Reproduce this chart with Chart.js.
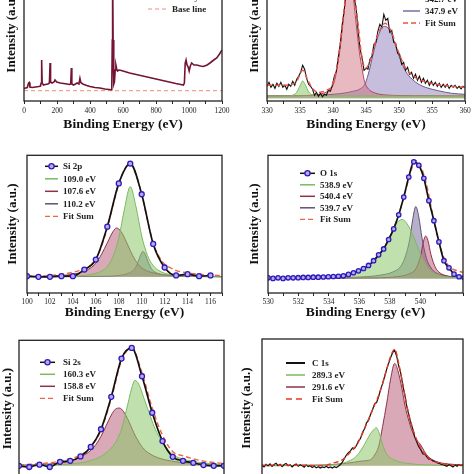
<!DOCTYPE html>
<html>
<head>
<meta charset="utf-8">
<script src="https://cdn.jsdelivr.net/npm/chart.js@4.4.1/dist/chart.umd.min.js"></script>
<style>
html, body { margin: 0; padding: 0; background: #fff; width: 474px; height: 474px; overflow: hidden; }
body { position: relative; }
canvas { position: absolute; }
</style>
</head>
<body>
<canvas id="c1" width="237" height="174" style="left:0;top:-41px"></canvas>
<canvas id="c2" width="237" height="174" style="left:237px;top:-41px"></canvas>
<canvas id="c3" width="237" height="171" style="left:0;top:150px"></canvas>
<canvas id="c4" width="237" height="171" style="left:237px;top:150px"></canvas>
<canvas id="c5" width="237" height="170" style="left:0;top:335px"></canvas>
<canvas id="c6" width="237" height="170" style="left:237px;top:335px"></canvas>
<script>
// ---- survey ----
const surveyPts = [[0,11.5],[10,12],[20,12.5],[28,17],[32,17.5],[36,13],[50,12.5],[70,13],[90,13.5],[100,14],[104,17],[107,40],[110,17],[118,15],[130,15.5],[145,16],[154,17],[158,37],[161,18],[170,17],[182,18],[188,20],[198,18],[220,17],[240,16.5],[260,16],[276,15.5],[283,16],[287,32],[290,16],[300,15],[312,16],[322,17],[333,16],[339,21.5],[344,17.5],[356,16],[380,14.5],[400,13.5],[430,12.5],[460,12],[490,11],[515,10.5],[528,10.2],[532,12],[535,60],[537,136],[540,60],[544,16],[548,18],[553,30],[557,35],[562,31],[567,29],[575,30],[590,29.5],[610,28.5],[640,27],[680,25.5],[720,24],[760,22.5],[800,21],[840,19.5],[880,18],[920,16.5],[950,15.5],[966,15],[972,17],[977,37],[982,40],[988,35],[995,33],[1001,29],[1008,34],[1016,37],[1030,35],[1046,35],[1070,34],[1087,33.5],[1110,35],[1127,37],[1150,40],[1168,42],[1185,46],[1200,50]];
const baseLinePts = [[0,9.3],[1200,9.3]];

// ---- 330-360 eV region ----
const reg2Data = [[330,12],[330.3,16],[330.6,11],[330.9,14],[331.2,10],[331.5,15],[331.8,12],[332.1,16],[332.4,11],[332.7,13],[333,9],[333.3,14],[333.6,12],[333.9,17],[334.2,13],[334.5,19],[334.8,22],[335.1,26],[335.4,33],[335.7,29],[336,20],[336.3,14],[336.6,12],[336.9,9],[337.2,3],[337.5,6],[337.8,2],[338.1,5],[338.4,1.5],[338.7,4],[339,3],[339.3,8],[339.6,7],[339.9,13],[340.2,22],[340.5,27],[340.8,41],[341.1,54],[341.4,74],[341.7,88],[342,108],[342.3,116],[342.6,126],[342.9,118],[343.2,101],[343.5,90],[343.8,68],[344.1,50],[344.4,40],[344.7,28],[345,30],[345.3,29],[345.6,39],[345.9,42],[346.2,54],[346.5,56],[346.8,67],[347.1,74],[347.4,71],[347.7,84],[348,78],[348.3,80],[348.6,66],[348.9,68],[349.2,56],[349.5,55],[349.8,45],[350.1,44],[350.4,34],[350.7,36],[351,28],[351.3,31],[351.6,24],[351.9,26],[352.2,20],[352.5,24],[352.8,18],[353.1,22],[353.4,16],[353.7,20],[354,15],[354.3,18],[354.6,13],[354.9,17],[355.2,13],[355.5,16],[355.8,12],[356.1,15],[356.4,11],[356.7,14],[357,11],[357.3,14],[357.6,10],[357.9,13],[358.2,11],[358.5,13],[358.8,10],[359.1,12],[359.4,9.5],[359.7,12],[360,10.5]];
const reg2Fit = [[330,13],[332,13],[333.5,13.5],[334.5,17],[335.4,28],[336.2,18],[337,9],[338,6],[339,8],[339.8,12],[340.5,28],[341,50],[341.5,78],[342,106],[342.6,124],[343.2,106],[343.7,80],[344.3,45],[344.9,30],[345.5,35],[346,46],[346.5,58],[347,67],[347.5,73],[347.9,75],[348.5,71],[349,64],[349.5,54],[350,45],[350.5,37],[351,30],[352,23],[353,19],[354,16.5],[356,13.5],[358,12],[360,11]];
const reg2PeakA = [[330,2.3],[333,2.4],[334,3.4],[334.5,6],[335,12.5],[335.4,17.3],[335.8,13.5],[336.3,6.5],[336.8,3.6],[338,2.5],[360,2.3]];
const reg2PeakB = [[330,2.3],[335,2.6],[337,3.2],[338.5,5],[339.5,8.5],[340,13],[340.3,19],[340.6,30],[341,46],[341.5,75],[342,105],[342.5,120],[343,105],[343.5,75],[344,46],[344.4,30],[344.7,19],[345,13],[345.5,8.5],[346.5,5],[348,3.3],[350,2.8],[355,2.5],[360,2.3]];
const reg2PeakC = [[330,2.4],[335,2.6],[338,3],[340,4],[342,5.5],[343,7],[344,9],[344.9,15],[345.5,28],[346,42],[346.5,55],[347,65],[347.5,71],[347.9,72],[348.5,69],[349,62],[349.5,52],[350,42],[350.5,34],[351,27],[352,19],[353,14],[354,11],[356,7.5],[358,5],[360,4]];

// ---- Si 2p ----
const si2pData = [[100,0.006],[101,0],[102,0],[103,0.006],[104,0.006],[105,0.064],[106,0.152],[107,0.443],[108,0.825],[109,1.0],[110,0.729],[111,0.29],[112,0.082],[113,0.012],[114,0.023],[115,0.006],[116,0.012]];
const si2pFit = [[100,0.006],[101,0.006],[102,0.012],[103,0.022],[104,0.04],[105,0.07],[105.5,0.1],[106,0.16],[106.5,0.27],[107,0.43],[107.5,0.63],[108,0.82],[108.5,0.95],[109,1.0],[109.5,0.9],[110,0.73],[110.5,0.5],[111,0.3],[111.5,0.18],[112,0.11],[112.5,0.08],[113,0.055],[114,0.035],[115,0.022],[116,0.015],[117,0.012]];
const si2pPeakA = [[100,0],[104,0.005],[105,0.012],[106,0.03],[106.5,0.05],[107,0.09],[107.5,0.18],[108,0.34],[108.5,0.6],[109,0.796],[109.5,0.62],[110,0.36],[110.5,0.19],[111,0.1],[111.5,0.055],[112,0.032],[113,0.015],[114,0.008],[117,0]];
const si2pPeakB = [[100,0.002],[102,0.006],[103,0.012],[104,0.022],[105,0.05],[105.5,0.075],[106,0.12],[106.5,0.2],[107,0.3],[107.5,0.4],[107.8,0.431],[108.2,0.4],[108.7,0.3],[109.2,0.19],[109.7,0.11],[110.2,0.065],[111,0.035],[112,0.018],[113,0.01],[115,0.004],[117,0.002]];
const si2pPeakC = [[100,0],[107,0.005],[108,0.012],[108.8,0.03],[109.3,0.06],[109.6,0.11],[109.9,0.19],[110.1,0.224],[110.3,0.2],[110.6,0.12],[110.9,0.065],[111.3,0.035],[112,0.015],[113,0.006],[117,0]];

// ---- O 1s ----
const o1sData = [[530,0.005],[530.33,0],[530.66,0.005],[530.99,0],[531.32,0.005],[531.65,0.005],[531.98,0.006],[532.31,0.008],[532.64,0.008],[532.97,0.01],[533.3,0.01],[533.63,0.012],[533.96,0.014],[534.29,0.016],[534.62,0.018],[534.95,0.022],[535.28,0.034],[535.61,0.048],[535.94,0.064],[536.27,0.084],[536.6,0.11],[536.93,0.15],[537.26,0.2],[537.59,0.25],[537.92,0.33],[538.25,0.42],[538.58,0.54],[538.91,0.69],[539.24,0.86],[539.57,0.99],[539.9,0.96],[540.23,0.85],[540.56,0.66],[540.89,0.49],[541.22,0.31],[541.55,0.15],[541.88,0.09],[542.21,0.036],[542.54,0.014],[542.87,0.005]];
const o1sFit = [[530,0.005],[532,0.008],[534,0.015],[535,0.025],[535.5,0.04],[536,0.065],[536.5,0.1],[537,0.16],[537.5,0.235],[538,0.35],[538.5,0.51],[539,0.73],[539.4,0.92],[539.7,1.0],[540,0.96],[540.4,0.8],[540.8,0.55],[541.2,0.32],[541.6,0.16],[542,0.09],[542.5,0.062],[543,0.045]];
const o1sPeakA = [[530,0.002],[532,0.005],[533,0.008],[534,0.014],[534.5,0.02],[535,0.03],[535.5,0.045],[536,0.07],[536.5,0.1],[537,0.15],[537.5,0.23],[538,0.36],[538.4,0.46],[538.8,0.5],[539.2,0.45],[539.6,0.34],[540,0.21],[540.4,0.11],[540.8,0.055],[541.3,0.025],[542,0.01],[543,0.004]];
const o1sPeakB = [[530,0],[537,0.005],[538.5,0.015],[539.3,0.04],[539.7,0.08],[540,0.18],[540.2,0.31],[540.35,0.36],[540.5,0.32],[540.7,0.2],[541,0.09],[541.3,0.045],[541.8,0.02],[542.5,0.008],[543,0.005]];
const o1sPeakC = [[530,0.002],[535,0.008],[536.5,0.015],[537.5,0.03],[538.2,0.055],[538.7,0.1],[539,0.18],[539.3,0.33],[539.5,0.5],[539.7,0.61],[539.9,0.52],[540.1,0.35],[540.4,0.17],[540.7,0.09],[541,0.05],[541.5,0.025],[542.2,0.012],[543,0.006]];

// ---- Si 2s ----
const si2sData = [[149,0],[150,-0.01],[151,0.01],[152,-0.01],[153,0.034],[154,0.042],[155,0.08],[156,0.16],[157,0.31],[158,0.585],[159,0.91],[160,1.0],[161,0.76],[162,0.45],[163,0.21],[164,0.076],[165,0.042],[166,0.025],[167,0.006],[168,0],[169,0]];
const si2sFit = [[149,0.008],[150,0.012],[151,0.018],[152,0.026],[153,0.04],[154,0.06],[155,0.09],[156,0.16],[157,0.3],[158,0.57],[159,0.89],[160,1.0],[161,0.79],[162,0.49],[163,0.26],[164,0.12],[165,0.085],[166,0.06],[167,0.04],[168,0.028],[169,0.02]];
const si2sPeakA = [[149,0.002],[153,0.01],[155,0.025],[156,0.045],[157,0.08],[158,0.15],[158.5,0.21],[159,0.31],[159.5,0.48],[160,0.66],[160.3,0.725],[160.7,0.69],[161.2,0.57],[161.7,0.45],[162.2,0.33],[162.7,0.24],[163.1,0.19],[163.6,0.13],[164.1,0.09],[164.7,0.065],[165.4,0.048],[166.5,0.03],[167.5,0.02],[169,0.01]];
const si2sPeakB = [[149,0.005],[151,0.01],[152,0.015],[153,0.025],[154,0.04],[155,0.075],[156,0.13],[156.5,0.18],[157,0.25],[157.5,0.34],[158,0.43],[158.4,0.48],[158.8,0.49],[159.2,0.46],[159.7,0.38],[160.2,0.28],[160.7,0.2],[161.2,0.14],[161.8,0.1],[162.5,0.07],[163.3,0.05],[164.5,0.032],[166,0.02],[169,0.008]];

// ---- C 1s ----
const c1sData = [[275,0.005],[275.25,-0.01],[275.5,0.012],[275.75,0],[276,0.015],[276.25,-0.005],[276.5,0.01],[276.75,0.02],[277,0],[277.25,0.012],[277.5,-0.008],[277.75,0.01],[278,0.018],[278.25,0],[278.5,0.008],[278.75,-0.01],[279,0.005],[279.25,0.015],[279.5,-0.005],[279.75,0.008],[280,0],[280.25,-0.012],[280.5,0.005],[280.75,-0.008],[281,0],[281.25,-0.015],[281.5,-0.005],[281.75,-0.018],[282,-0.008],[282.25,-0.02],[282.5,-0.01],[282.75,-0.016],[283,-0.005],[283.25,-0.018],[283.5,-0.01],[283.75,-0.02],[284,-0.008],[284.25,-0.015],[284.5,-0.005],[284.75,0.01],[285,0.03],[285.25,0.06],[285.5,0.09],[285.75,0.11],[286,0.125],[286.25,0.15],[286.5,0.145],[286.75,0.17],[287,0.21],[287.25,0.23],[287.5,0.28],[287.75,0.31],[288,0.36],[288.25,0.38],[288.5,0.43],[288.75,0.47],[289,0.52],[289.25,0.53],[289.5,0.58],[289.75,0.64],[290,0.69],[290.25,0.75],[290.5,0.81],[290.75,0.86],[291,0.91],[291.25,0.95],[291.5,0.97],[291.75,0.92],[292,0.84],[292.25,0.78],[292.5,0.68],[292.75,0.6],[293,0.5],[293.25,0.43],[293.5,0.36],[293.75,0.31],[294,0.24],[294.25,0.2],[294.5,0.16],[294.75,0.135],[295,0.1],[295.25,0.095],[295.5,0.075],[295.75,0.055],[296,0.052],[296.25,0.04],[296.5,0.035],[296.75,0.025],[297,0.02],[297.25,0.012],[297.5,0.008],[297.75,0.003],[298,-0.005],[298.25,0.008],[298.5,0],[298.75,-0.01],[299,0.005],[299.25,-0.005],[299.5,0.01],[299.75,0],[300,0.005]];
const c1sFit = [[275,0.005],[280,0.005],[282,0],[283,0.003],[283.5,0.015],[284,0.025],[284.5,0.035],[285,0.05],[285.5,0.08],[286,0.115],[286.5,0.15],[287,0.2],[287.5,0.27],[288,0.35],[288.5,0.43],[289,0.51],[289.5,0.59],[290,0.69],[290.5,0.81],[291,0.92],[291.5,0.98],[292,0.86],[292.5,0.69],[293,0.51],[293.5,0.37],[294,0.26],[294.5,0.18],[295,0.12],[295.5,0.08],[296,0.05],[297,0.025],[298,0.012],[299,0.008],[300,0.005]];
const c1sPeakA = [[275,0],[283,0.005],[284,0.01],[285,0.02],[285.5,0.03],[286,0.045],[286.5,0.065],[287,0.1],[287.5,0.15],[288,0.21],[288.5,0.27],[289,0.31],[289.2,0.32],[289.6,0.27],[290,0.18],[290.4,0.11],[290.8,0.075],[291.4,0.05],[292,0.035],[293,0.02],[295,0.008],[300,0]];
const c1sPeakB = [[275,0],[282,0.005],[284,0.01],[285.5,0.02],[286.5,0.03],[287.5,0.04],[288.5,0.05],[289,0.09],[289.5,0.16],[290,0.33],[290.5,0.52],[291,0.73],[291.5,0.86],[291.9,0.8],[292.4,0.65],[292.8,0.5],[293.3,0.37],[293.8,0.27],[294.3,0.21],[294.7,0.18],[295.2,0.12],[295.7,0.075],[296.5,0.04],[297.5,0.02],[299,0.01],[300,0.006]];

const SERIF = '"Liberation Serif", "DejaVu Serif", serif';
const GREEN = 'rgb(125,185,95)', GREEN_F = 'rgba(140,200,105,0.55)';
const MAROON = 'rgb(140,50,75)', MAROON_F = 'rgba(175,75,105,0.48)';
const PURPLE = 'rgb(95,80,120)', PURPLE_F = 'rgba(95,80,135,0.45)';
const FIT = 'rgb(238,100,70)';

const pts = arr => arr.map(p => ({x: p[0], y: p[1]}));

function peak(arr, color, fill) {
    return {data: pts(arr), borderColor: color, backgroundColor: fill, borderWidth: 1,
        fill: 'origin', pointRadius: 0, cubicInterpolationMode: 'monotone'};
}
function fitLine(arr, color) {
    return {data: pts(arr), borderColor: color || FIT, borderWidth: 1.4, borderDash: [5, 3],
        fill: false, pointRadius: 0, cubicInterpolationMode: 'monotone'};
}
function dotLine(arr, r) {
    return {data: pts(arr), borderColor: '#111', borderWidth: 1.7, fill: false,
        pointRadius: r || 2.5, pointBorderWidth: 1.3, pointBorderColor: 'rgb(40,30,190)',
        pointBackgroundColor: 'rgb(195,165,230)', cubicInterpolationMode: 'monotone'};
}
function noisyLine(arr, color, w) {
    return {data: pts(arr), borderColor: color, borderWidth: w || 1.1, fill: false, pointRadius: 0, tension: 0};
}

const framePlugin = {
    id: 'frame',
    afterDraw(chart) {
        const {ctx, chartArea: a} = chart;
        ctx.save();
        ctx.strokeStyle = '#222';
        ctx.lineWidth = 1.3;
        ctx.strokeRect(a.left, a.top, a.right - a.left, a.bottom - a.top);
        ctx.restore();
    }
};

const boxLegend = {
    id: 'boxLegend',
    afterDraw(chart, args, opts) {
        if (!opts || !opts.items) return;
        const {ctx, chartArea: a} = chart;
        ctx.save();
        ctx.font = 'bold 9px ' + SERIF;
        ctx.textBaseline = 'middle';
        opts.items.forEach((it, i) => {
            const y = a.top + opts.y + i * opts.dy;
            const x0 = a.left + opts.x0, x1 = a.left + opts.x1;
            ctx.strokeStyle = it.color;
            ctx.lineWidth = it.width || 1.5;
            ctx.setLineDash(it.dash || []);
            ctx.beginPath();
            ctx.moveTo(x0, y);
            ctx.lineTo(x1, y);
            ctx.stroke();
            ctx.setLineDash([]);
            if (it.marker) {
                ctx.beginPath();
                ctx.arc((x0 + x1) / 2, y, 2.6, 0, Math.PI * 2);
                ctx.fillStyle = 'rgb(195,165,230)';
                ctx.fill();
                ctx.lineWidth = 1.3;
                ctx.strokeStyle = 'rgb(40,30,190)';
                ctx.stroke();
            }
            ctx.fillStyle = '#222';
            ctx.fillText(it.label, a.left + opts.tx, y + 0.5);
        });
        ctx.restore();
    }
};

function makePanel(id, s) {
    const isLabel = v => Math.abs(v / s.labelStep - Math.round(v / s.labelStep)) < 1e-6;
    return new Chart(document.getElementById(id), {
        type: 'line',
        data: {datasets: s.datasets},
        options: {
            responsive: false,
            animation: false,
            layout: {padding: {top: 4, right: s.right, left: 0, bottom: 0}},
            plugins: {legend: {display: false}, tooltip: {enabled: false}, boxLegend: s.legend},
            scales: {
                x: {
                    type: 'linear', min: s.xMin, max: s.xMax,
                    afterFit: sc => { sc.height = s.xH; },
                    grid: {drawOnChartArea: false, drawTicks: true, tickLength: 3, color: '#222'},
                    border: {display: false},
                    ticks: {stepSize: s.step, padding: s.tickPad, autoSkip: false, maxRotation: 0,
                        color: '#222', font: {family: SERIF, size: 7.5},
                        callback: v => isLabel(v) ? String(Math.round(v)) : ''},
                    title: {display: true, text: 'Binding Energy (eV)', color: '#111', padding: 0,
                        font: {family: SERIF, size: 13.5, weight: 'bold'}}
                },
                y: {
                    min: s.yMin, max: s.yMax,
                    afterFit: sc => { sc.width = s.yW; },
                    grid: {display: false}, border: {display: false}, ticks: {display: false},
                    title: {display: true, text: 'Intensity (a.u.)', color: '#111',
                        padding: {top: s.yPad, bottom: 0},
                        font: {family: SERIF, size: 13, weight: 'bold'}}
                }
            }
        },
        plugins: [framePlugin, boxLegend]
    });
}

makePanel('c1', {
    xMin: 0, xMax: 1200, step: 100, labelStep: 200, yMin: -1, yMax: 137,
    yW: 24, right: 15, xH: 32, tickPad: 3, yPad: 3.7,
    datasets: [noisyLine(surveyPts, 'rgb(115,20,50)', 1.6),
        {data: pts(baseLinePts), borderColor: 'rgb(240,140,120)', borderWidth: 1, borderDash: [4, 3], pointRadius: 0, fill: false}],
    legend: {x0: 124, x1: 143, tx: 148, y: 34, dy: 12, items: [
        {label: 'Survey', color: 'rgb(115,20,50)'},
        {label: 'Base line', color: 'rgb(240,140,120)', dash: [4, 3], width: 1}]}
});

makePanel('c2', {
    xMin: 330, xMax: 360, step: 2.5, labelStep: 5, yMin: -2.7, yMax: 135.3,
    yW: 30, right: 9, xH: 32, tickPad: 3, yPad: 10.2,
    datasets: [fitLine(reg2Fit, 'rgb(235,80,70)'), noisyLine(reg2Data, '#111', 1.1),
        peak(reg2PeakA, GREEN, 'rgba(140,200,105,0.55)'),
        peak(reg2PeakB, 'rgb(180,70,90)', 'rgba(205,100,115,0.45)'),
        peak(reg2PeakC, 'rgb(105,90,145)', 'rgba(130,110,180,0.45)')],
    legend: {x0: 136, x1: 153, tx: 158, y: 12, dy: 12, items: [
        {label: 'Ca 2p', color: '#111'},
        {label: '335.4 eV', color: GREEN},
        {label: '342.7 eV', color: 'rgb(180,70,90)'},
        {label: '347.9 eV', color: 'rgb(120,110,160)'},
        {label: 'Fit Sum', color: 'rgb(235,80,70)', dash: [5, 3], width: 1.3}]}
});

makePanel('c3', {
    xMin: 100, xMax: 117, step: 1, labelStep: 2, yMin: -0.143, yMax: 1.073,
    yW: 27, right: 15, xH: 28, tickPad: 2, yPad: 5.2,
    datasets: [dotLine(si2pData), fitLine(si2pFit),
        peak(si2pPeakA, GREEN, GREEN_F), peak(si2pPeakB, MAROON, MAROON_F), peak(si2pPeakC, PURPLE, PURPLE_F)],
    legend: {x0: 18, x1: 31, tx: 36, y: 11, dy: 12.5, items: [
        {label: 'Si 2p', color: '#111', marker: true},
        {label: '109.0 eV', color: GREEN},
        {label: '107.6 eV', color: MAROON},
        {label: '110.2 eV', color: PURPLE},
        {label: 'Fit Sum', color: FIT, dash: [5, 3], width: 1.3}]}
});

makePanel('c4', {
    xMin: 530, xMax: 542.8, step: 1, labelStep: 2, yMin: -0.124, yMax: 1.045,
    yW: 31, right: 11, xH: 28, tickPad: 2, yPad: 10.2,
    datasets: [dotLine(o1sData, 2.2), fitLine(o1sFit),
        peak(o1sPeakA, GREEN, GREEN_F), peak(o1sPeakB, MAROON, MAROON_F), peak(o1sPeakC, PURPLE, PURPLE_F)],
    legend: {x0: 32, x1: 47, tx: 52, y: 18, dy: 11.5, items: [
        {label: 'O 1s', color: '#111', marker: true},
        {label: '538.9 eV', color: GREEN},
        {label: '540.4 eV', color: MAROON},
        {label: '539.7 eV', color: PURPLE},
        {label: 'Fit Sum', color: FIT, dash: [5, 3], width: 1.3}]}
});

makePanel('c5', {
    xMin: 149, xMax: 169, step: 1, labelStep: 2, yMin: -0.095, yMax: 1.065,
    yW: 19, right: 13, xH: 28, tickPad: 2, yPad: 0.2,
    datasets: [dotLine(si2sData), fitLine(si2sFit),
        peak(si2sPeakA, GREEN, GREEN_F), peak(si2sPeakB, MAROON, MAROON_F)],
    legend: {x0: 21, x1: 36, tx: 44, y: 22, dy: 12, items: [
        {label: 'Si 2s', color: '#111', marker: true},
        {label: '160.3 eV', color: GREEN},
        {label: '158.8 eV', color: MAROON},
        {label: 'Fit Sum', color: FIT, dash: [5, 3], width: 1.3}]}
});

makePanel('c6', {
    xMin: 275, xMax: 300, step: 2.5, labelStep: 5, yMin: -0.095, yMax: 1.065,
    yW: 25, right: 11, xH: 28, tickPad: 2, yPad: 2.2,
    datasets: [fitLine(c1sFit, 'rgb(230,55,35)'), noisyLine(c1sData, '#111', 1.2),
        peak(c1sPeakA, GREEN, GREEN_F), peak(c1sPeakB, MAROON, MAROON_F)],
    legend: {x0: 24, x1: 43, tx: 50, y: 24, dy: 12, items: [
        {label: 'C 1s', color: '#111', width: 2},
        {label: '289.3 eV', color: GREEN},
        {label: '291.6 eV', color: MAROON},
        {label: 'Fit Sum', color: 'rgb(230,55,35)', dash: [6, 4], width: 1.6}]}
});
</script>
</body>
</html>
